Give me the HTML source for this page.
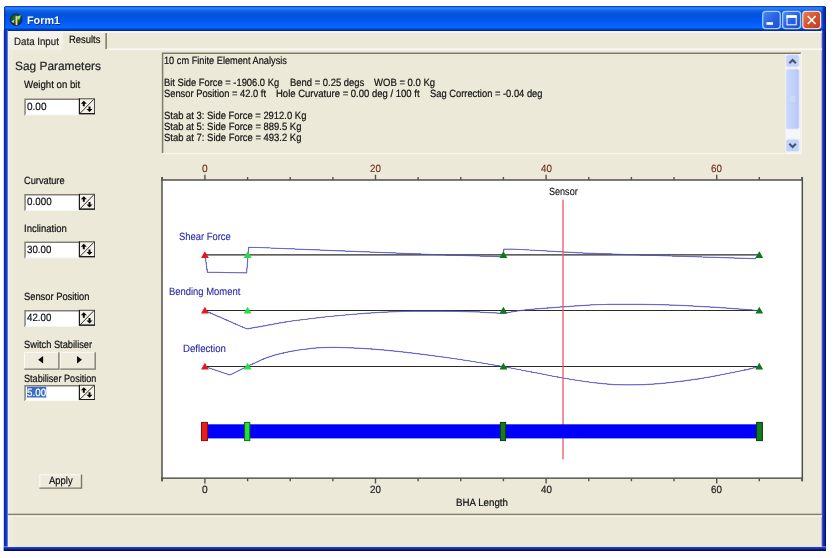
<!DOCTYPE html>
<html lang="en">
<head>
<meta charset="utf-8">
<title>Form1</title>
<style>
html,body{margin:0;padding:0;}
body{width:835px;height:558px;background:#fff;position:relative;overflow:hidden;font-family:"Liberation Sans",sans-serif;}
#win{position:absolute;left:4px;top:6px;width:822px;height:545px;background:#0b35c6;border-radius:3px 3px 0 0;overflow:hidden;
  box-shadow:inset 1px 0 0 #0a2db4,inset -1px 0 0 #0720a0,inset 0 -1px 0 #061a90;}
#title{position:absolute;left:0;top:0;width:822px;height:25px;
  background:linear-gradient(to bottom,#0a3cb8 0%,#0f48c8 3%,#2f84ff 7%,#2278f8 12%,#0a5ee6 21%,#0252da 36%,#0358f0 60%,#0562fe 76%,#0868ff 86%,#0446cc 92%,#002c9c 97%,#0030a8 100%);}
#client{position:absolute;left:4px;top:25px;width:814px;height:516px;background:#ece9d8;}
#tabs{position:absolute;left:8px;top:31px;width:814px;height:19px;}
.tab{position:absolute;top:2px;height:17px;}
#memo{position:absolute;left:162px;top:53px;width:639px;height:100px;background:#ece9d8;}
#status{position:absolute;left:8px;top:514px;width:814px;height:33px;background:#ece9d8;}
.btn{position:absolute;box-sizing:border-box;background:#eeebdc;}
svg{position:absolute;left:0;top:0;}
.t{position:absolute;white-space:pre;transform-origin:0 0;font-size:10.5px;line-height:14px;color:#111;
  font-family:"Liberation Sans",sans-serif;text-rendering:geometricPrecision;-webkit-text-stroke:0.2px currentColor;}
</style>
</head>
<body>
<div id="win">
  <div id="title"></div>
  <div id="client"></div>
</div>
<div id="tabs">
  <div class="tab" style="left:1px;width:54px;background:linear-gradient(to bottom,#f5f3ea,#f1efe4)"></div>
  <div class="tab" style="left:55px;width:43px;"></div>
</div>
<div id="memo"></div>
<div class="btn" style="left:24px;top:352px;width:36px;height:18px"></div>
<div class="btn" style="left:60px;top:352px;width:36px;height:18px"></div>
<div class="btn" style="left:39px;top:474px;width:43px;height:15px"></div>
<div id="status"></div>

<svg width="835" height="558" viewBox="0 0 835 558">
  <defs>
    <linearGradient id="bl" x1="0" y1="0" x2="1" y2="0">
      <stop offset="0" stop-color="#0a1e9c"/><stop offset="0.25" stop-color="#0f2cb6"/><stop offset="0.7" stop-color="#1a40c8"/><stop offset="0.9" stop-color="#4c76e2"/><stop offset="1" stop-color="#a8c4f8"/>
    </linearGradient>
    <linearGradient id="br" x1="0" y1="0" x2="1" y2="0">
      <stop offset="0" stop-color="#c8cede"/><stop offset="0.18" stop-color="#5a6ab8"/><stop offset="0.4" stop-color="#1c32b4"/><stop offset="0.72" stop-color="#10229e"/><stop offset="0.86" stop-color="#000c80"/><stop offset="1" stop-color="#000c80"/>
    </linearGradient>
    <linearGradient id="tr" x1="0" y1="0" x2="1" y2="0">
      <stop offset="0" stop-color="#0a2ca8" stop-opacity="0"/><stop offset="0.35" stop-color="#0a2ca8" stop-opacity="0.800"/><stop offset="1" stop-color="#041a8c" stop-opacity="1"/>
    </linearGradient>
    <linearGradient id="tl" x1="0" y1="0" x2="1" y2="0">
      <stop offset="0" stop-color="#0a2aa6" stop-opacity="0.900"/><stop offset="1" stop-color="#0a2aa6" stop-opacity="0"/>
    </linearGradient>
    <linearGradient id="bb" x1="0" y1="0" x2="0" y2="1">
      <stop offset="0" stop-color="#d4dcec"/><stop offset="0.2" stop-color="#2a44b8"/><stop offset="0.55" stop-color="#0a28a2"/><stop offset="0.82" stop-color="#000a72"/><stop offset="1" stop-color="#000a72"/>
    </linearGradient>
    <linearGradient id="gb" x1="0" y1="0" x2="1" y2="1">
      <stop offset="0" stop-color="#4f8cf6"/><stop offset="0.5" stop-color="#2b62e2"/><stop offset="1" stop-color="#1f4fc6"/>
    </linearGradient>
    <linearGradient id="gr" x1="0" y1="0" x2="1" y2="1">
      <stop offset="0" stop-color="#ea8058"/><stop offset="0.5" stop-color="#d4532c"/><stop offset="1" stop-color="#c03a16"/>
    </linearGradient>
    <radialGradient id="gi" cx="0.5" cy="0.4" r="0.6">
      <stop offset="0" stop-color="#2c7c3a"/><stop offset="0.6" stop-color="#175226"/><stop offset="1" stop-color="#0a2430"/>
    </radialGradient>
    <linearGradient id="gt" x1="0" y1="0" x2="1" y2="0">
      <stop offset="0" stop-color="#cad8fc"/><stop offset="0.6" stop-color="#c0d0f8"/><stop offset="1" stop-color="#b4c6f2"/>
    </linearGradient>
  </defs>

  <!-- window frame: left / right / bottom borders -->
  <rect x="3.800" y="30" width="4.200" height="521" fill="url(#bl)"/>
  <rect x="821.200" y="30" width="4.800" height="521" fill="url(#br)"/>
  <rect x="3.800" y="546.600" width="822.200" height="4.400" fill="url(#bb)"/>
  <rect x="7.900" y="31" width="1.400" height="515.600" fill="#eef5fe"/>
  <rect x="821.800" y="7" width="4.200" height="24" fill="url(#tr)"/>
  <rect x="4" y="7.500" width="2.200" height="23.500" fill="url(#tl)"/>
  <rect x="9" y="50" width="4.6" height="497" fill="#efecde"/>
  <rect x="8" y="31.4" width="814" height="1.3" fill="#fbfaf5"/>

  <!-- tab control lines -->
  <rect x="105.4" y="33" width="1.5" height="16" fill="#7b7868"/>
  <rect x="106.9" y="48.3" width="715" height="1.8" fill="#f8f7f0"/>

  <!-- memo sunken border -->
  <path d="M162.6 153.3 V53.3 H801" fill="none" stroke="#7f7c6a" stroke-width="1.5"/>
  <path d="M162 153.6 H801.2 V53" fill="none" stroke="#fbfaf5" stroke-width="1"/>

  <!-- memo scrollbar -->
  <rect x="785.5" y="54.2" width="14.8" height="98.5" fill="#f6f6fb"/>
  <rect x="786" y="54.8" width="13.2" height="12.2" rx="2" fill="#c3d3f8" stroke="#e4eafb" stroke-width="0.8"/>
  <rect x="786" y="69" width="13.2" height="60" rx="2" fill="url(#gt)" stroke="#e4eafb" stroke-width="0.8"/>
  <rect x="786" y="139.3" width="13.2" height="12.4" rx="2" fill="#c3d3f8" stroke="#e4eafb" stroke-width="0.8"/>
  <path d="M789.300 63.200 L792.600 59.900 L795.900 63.200" stroke="#44557c" stroke-width="2.100" fill="none"/>
  <path d="M789.300 143.700 L792.600 147 L795.900 143.700" stroke="#44557c" stroke-width="2.100" fill="none"/>
  <path d="M790 97 H795.5 M790 99 H795.5 M790 101 H795.5" stroke="#d9e3fb" stroke-width="0.9"/>

  <!-- status bar top line -->
  <rect x="8" y="513.7" width="814" height="1.5" fill="#807d6b"/>
  <rect x="8" y="515.4" width="814" height="1.4" fill="#f6f4ec"/>

  <!-- raised buttons: highlights + shadows -->
  <g fill="none">
    <path d="M24.5 369.5 V352.400 H59.3" stroke="#fbfaf4" stroke-width="1"/>
    <path d="M24.3 369.2 H59.3 M58.9 352.2 V369.8" stroke="#79766a" stroke-width="1.3"/>
    <path d="M60.5 369.5 V352.400 H95.6" stroke="#fbfaf4" stroke-width="1"/>
    <path d="M60.2 369.2 H95.7 M95.2 352.2 V369.8" stroke="#79766a" stroke-width="1.3"/>
    <path d="M39.8 488 V474.800 H81.6" stroke="#fbfaf4" stroke-width="1"/>
    <path d="M39.4 488.100 H82 M81.5 474.400 V488.700" stroke="#79766a" stroke-width="1.4"/>
  </g>
  <path d="M38.1 359.800 L43.1 356 V363.600 Z" fill="#0c0c0c"/>
  <path d="M82 359.800 L77 356 V363.600 Z" fill="#0c0c0c"/>

  <!-- spin edits -->
  <g id="edits">
    <rect x="24.3" y="98.5" width="54.6" height="16" fill="#fff"/><path d="M24.3 114.5 V98.5 H78.9" fill="none" stroke="#807e70" stroke-width="1.5" transform="translate(0.75 0.75)"/><path d="M25 114.8 H78.9" fill="none" stroke="#fbfaf5" stroke-width="1"/>
    <rect x="24.3" y="194" width="54.6" height="16" fill="#fff"/><path d="M24.3 210 V194 H78.9" fill="none" stroke="#807e70" stroke-width="1.5" transform="translate(0.75 0.75)"/><path d="M25 210.3 H78.9" fill="none" stroke="#fbfaf5" stroke-width="1"/>
    <rect x="24.3" y="241.5" width="54.6" height="16" fill="#fff"/><path d="M24.3 257.5 V241.5 H78.9" fill="none" stroke="#807e70" stroke-width="1.5" transform="translate(0.75 0.75)"/><path d="M25 257.8 H78.9" fill="none" stroke="#fbfaf5" stroke-width="1"/>
    <rect x="24.3" y="310" width="54.6" height="16" fill="#fff"/><path d="M24.3 326 V310 H78.9" fill="none" stroke="#807e70" stroke-width="1.5" transform="translate(0.75 0.75)"/><path d="M25 326.3 H78.9" fill="none" stroke="#fbfaf5" stroke-width="1"/>
    <rect x="24.3" y="385" width="54.6" height="15.3" fill="#fff"/><path d="M24.3 400.3 V385 H78.9" fill="none" stroke="#807e70" stroke-width="1.5" transform="translate(0.75 0.75)"/><path d="M25 400.6 H78.9" fill="none" stroke="#fbfaf5" stroke-width="1"/>
  </g>
  <!-- selection highlight -->
  <rect x="27" y="386.800" width="19.200" height="10.700" fill="#3a6cc6"/>
  <g id="spins">
    <rect x="79.5" y="98.8" width="15.0" height="14.9" fill="#f4f2e8" stroke="#4a4a44" stroke-width="1"/><path d="M79.4 114.2 V98.6 M79.0 113.7 H95.0" stroke="#1c1c1a" stroke-width="1.2" fill="none"/><path d="M80.0 113.4 L93.8 99.3" stroke="#1a1a1a" stroke-width="0.9" fill="none"/>
    <path d="M83.8 100.7 L86.8 103.7 H84.8 V106.3 H82.8 V103.7 H80.8 Z" fill="#080808"/>
    <path d="M89.5 112.0 L92.5 109.0 H90.5 V106.4 H88.5 V109.0 H86.5 Z" fill="#080808"/>
    <rect x="79.5" y="194.3" width="15.0" height="14.9" fill="#f4f2e8" stroke="#4a4a44" stroke-width="1"/><path d="M79.4 209.7 V194.1 M79.0 209.2 H95.0" stroke="#1c1c1a" stroke-width="1.2" fill="none"/><path d="M80.0 208.9 L93.8 194.8" stroke="#1a1a1a" stroke-width="0.9" fill="none"/>
    <path d="M83.8 196.2 L86.8 199.2 H84.8 V201.8 H82.8 V199.2 H80.8 Z" fill="#080808"/>
    <path d="M89.5 207.5 L92.5 204.5 H90.5 V201.9 H88.5 V204.5 H86.5 Z" fill="#080808"/>
    <rect x="79.5" y="241.8" width="15.0" height="14.9" fill="#f4f2e8" stroke="#4a4a44" stroke-width="1"/><path d="M79.4 257.2 V241.6 M79.0 256.7 H95.0" stroke="#1c1c1a" stroke-width="1.2" fill="none"/><path d="M80.0 256.4 L93.8 242.3" stroke="#1a1a1a" stroke-width="0.9" fill="none"/>
    <path d="M83.8 243.7 L86.8 246.7 H84.8 V249.3 H82.8 V246.7 H80.8 Z" fill="#080808"/>
    <path d="M89.5 255.0 L92.5 252.0 H90.5 V249.4 H88.5 V252.0 H86.5 Z" fill="#080808"/>
    <rect x="79.5" y="310.3" width="15.0" height="14.9" fill="#f4f2e8" stroke="#4a4a44" stroke-width="1"/><path d="M79.4 325.7 V310.1 M79.0 325.2 H95.0" stroke="#1c1c1a" stroke-width="1.2" fill="none"/><path d="M80.0 324.9 L93.8 310.8" stroke="#1a1a1a" stroke-width="0.9" fill="none"/>
    <path d="M83.8 312.2 L86.8 315.2 H84.8 V317.8 H82.8 V315.2 H80.8 Z" fill="#080808"/>
    <path d="M89.5 323.5 L92.5 320.5 H90.5 V317.9 H88.5 V320.5 H86.5 Z" fill="#080808"/>
    <rect x="79.5" y="385.3" width="15.0" height="14.2" fill="#f4f2e8" stroke="#4a4a44" stroke-width="1"/><path d="M79.4 400.0 V385.1 M79.0 399.5 H95.0" stroke="#1c1c1a" stroke-width="1.2" fill="none"/><path d="M80.0 399.2 L93.8 385.8" stroke="#1a1a1a" stroke-width="0.9" fill="none"/>
    <path d="M83.8 387.2 L86.8 390.2 H84.8 V392.8 H82.8 V390.2 H80.8 Z" fill="#080808"/>
    <path d="M89.5 397.8 L92.5 394.8 H90.5 V392.2 H88.5 V394.8 H86.5 Z" fill="#080808"/>
  </g>

  <!-- plot area -->
  <rect x="162" y="180" width="640" height="298" fill="#fff"/>
  <g stroke-width="1.500" fill="none">
    <path d="M162 177 V481.200" stroke="#514f47"/>
    <path d="M161.300 179.900 H803" stroke="#514f47"/>
    <path d="M161.300 478.200 H803" stroke="#3c3b37" stroke-width="1.300"/>
    <path d="M802.300 177 V481.200" stroke="#514f47"/>
  </g>
  <path d="M162.2 176.9 V180 M162.2 478 V481.2 M204.9 174.8 V180 M204.9 478 V483.6 M247.6 176.9 V180 M247.6 478 V481.2 M290.2 176.9 V180 M290.2 478 V481.2 M332.9 176.9 V180 M332.9 478 V481.2 M375.5 174.8 V180 M375.5 478 V483.6 M418.1 176.9 V180 M418.1 478 V481.2 M460.8 176.9 V180 M460.8 478 V481.2 M503.4 176.9 V180 M503.4 478 V481.2 M546.1 174.8 V180 M546.1 478 V483.6 M588.8 176.9 V180 M588.8 478 V481.2 M631.4 176.9 V180 M631.4 478 V481.2 M674.0 176.9 V180 M674.0 478 V481.2 M716.7 174.8 V180 M716.7 478 V483.6 M759.3 176.9 V180 M759.3 478 V481.2 M802.0 176.9 V180 M802.0 478 V481.2" stroke="#56534a" stroke-width="1.400" fill="none"/>

  <!-- baselines -->
  <g stroke="#2c2c2c" stroke-width="1" fill="none">
    <path d="M205 254.900 H759" stroke="#2a2a2a" stroke-width="1.400"/>
    <path d="M205 310.5 H759"/>
    <path d="M205 366.5 H759"/>
  </g>
  <!-- curves -->
  <g stroke="#4c4cc0" stroke-width="1" fill="none" stroke-linejoin="round" stroke-opacity="0.600" shape-rendering="crispEdges">
    <path d="M205 255 L207.4 272.2 L246.6 273 L248.7 247.4 L258 247.5 L340 250.8 L446 255 L500 256.6 L503 256.6 L504 249 L512 249 L580 252.9 L640 255 L755 258.7 L759 255"/>
    <path d="M205 310.6 L247 329 C253.1 327.9 271.9 324.2 283.6 322.3 C295.3 320.4 305.8 319.2 317.0 317.9 C328.2 316.6 339.4 315.4 350.6 314.5 C361.8 313.6 373.4 312.8 384.0 312.2 C394.6 311.6 404.5 311.4 414.0 311.2 C423.5 311.0 430.9 311.0 441.0 311.1 C451.1 311.2 465.2 311.5 474.7 311.8 C484.2 312.1 493.3 312.8 498.0 313.1 C502.7 313.4 502.2 313.4 503.0 313.5 C505.8 313.0 513.8 311.4 520.0 310.6 C526.2 309.8 532.8 309.2 540.0 308.6 C547.2 308.0 555.5 307.4 563.0 306.8 C570.5 306.2 578.0 305.7 585.0 305.3 C592.0 304.9 595.8 304.6 605.0 304.5 C614.2 304.4 627.5 304.2 640.0 304.4 C652.5 304.5 666.7 304.9 680.0 305.4 C693.3 305.9 706.8 306.8 720.0 307.6 C733.2 308.5 752.5 310.0 759.0 310.5"/>
    <path d="M205 366.5 L229.7 375 L247.1 366.5 C248.9 365.7 254.6 363.1 257.9 361.6 C261.2 360.1 263.9 358.7 266.9 357.6 C269.9 356.5 272.8 355.7 275.8 354.9 C278.8 354.1 281.8 353.4 284.8 352.7 C287.8 352.0 290.8 351.4 293.8 350.9 C296.8 350.4 299.8 349.9 302.8 349.5 C305.8 349.1 308.8 348.7 311.8 348.4 C314.8 348.1 317.1 347.9 320.7 347.7 C324.3 347.5 329.2 347.4 333.3 347.4 C337.4 347.4 338.9 347.4 345.0 347.6 C351.1 347.9 360.8 348.2 370.0 348.9 C379.2 349.6 386.7 350.1 400.0 351.6 C413.3 353.1 432.8 355.5 450.0 358.0 C467.2 360.5 484.2 363.3 503.0 366.6 C521.8 369.9 546.8 375.2 563.0 378.0 C579.2 380.8 589.2 382.2 600.0 383.4 C610.8 384.6 618.0 385.0 628.0 385.0 C638.0 385.0 648.0 384.7 660.0 383.6 C672.0 382.6 686.7 380.8 700.0 378.7 C713.3 376.6 730.2 373.0 740.0 371.0 C749.8 369.0 755.8 367.3 759.0 366.6"/>
  </g>
  <g stroke="#4c4cc0" stroke-width="1.200" fill="none" stroke-linejoin="round" stroke-opacity="0.600">
    <path d="M205 255 L207.4 272.2 L246.6 273 L248.7 247.4 L258 247.5 L340 250.8 L446 255 L500 256.6 L503 256.6 L504 249 L512 249 L580 252.9 L640 255 L755 258.7 L759 255"/>
    <path d="M205 310.6 L247 329 C253.1 327.9 271.9 324.2 283.6 322.3 C295.3 320.4 305.8 319.2 317.0 317.9 C328.2 316.6 339.4 315.4 350.6 314.5 C361.8 313.6 373.4 312.8 384.0 312.2 C394.6 311.6 404.5 311.4 414.0 311.2 C423.5 311.0 430.9 311.0 441.0 311.1 C451.1 311.2 465.2 311.5 474.7 311.8 C484.2 312.1 493.3 312.8 498.0 313.1 C502.7 313.4 502.2 313.4 503.0 313.5 C505.8 313.0 513.8 311.4 520.0 310.6 C526.2 309.8 532.8 309.2 540.0 308.6 C547.2 308.0 555.5 307.4 563.0 306.8 C570.5 306.2 578.0 305.7 585.0 305.3 C592.0 304.9 595.8 304.6 605.0 304.5 C614.2 304.4 627.5 304.2 640.0 304.4 C652.5 304.5 666.7 304.9 680.0 305.4 C693.3 305.9 706.8 306.8 720.0 307.6 C733.2 308.5 752.5 310.0 759.0 310.5"/>
    <path d="M205 366.5 L229.7 375 L247.1 366.5 C248.9 365.7 254.6 363.1 257.9 361.6 C261.2 360.1 263.9 358.7 266.9 357.6 C269.9 356.5 272.8 355.7 275.8 354.9 C278.8 354.1 281.8 353.4 284.8 352.7 C287.8 352.0 290.8 351.4 293.8 350.9 C296.8 350.4 299.8 349.9 302.8 349.5 C305.8 349.1 308.8 348.7 311.8 348.4 C314.8 348.1 317.1 347.9 320.7 347.7 C324.3 347.5 329.2 347.4 333.3 347.4 C337.4 347.4 338.9 347.4 345.0 347.6 C351.1 347.9 360.8 348.2 370.0 348.9 C379.2 349.6 386.7 350.1 400.0 351.6 C413.3 353.1 432.8 355.5 450.0 358.0 C467.2 360.5 484.2 363.3 503.0 366.6 C521.8 369.9 546.8 375.2 563.0 378.0 C579.2 380.8 589.2 382.2 600.0 383.4 C610.8 384.6 618.0 385.0 628.0 385.0 C638.0 385.0 648.0 384.7 660.0 383.6 C672.0 382.6 686.7 380.8 700.0 378.7 C713.3 376.6 730.2 373.0 740.0 371.0 C749.8 369.0 755.8 367.3 759.0 366.6"/>
  </g>
  <!-- sensor line -->
  <path d="M563 199.400 V459.600" stroke="#e65a62" stroke-width="1.300" fill="none"/>
  <!-- BHA bar -->
  <rect x="205" y="424.300" width="554" height="14.100" fill="#0000f8"/>
  <rect x="201.500" y="422.400" width="6" height="18.200" fill="#f01a1a" stroke="#7e1212" stroke-width="1"/>
  <rect x="244.600" y="422.400" width="5.200" height="18.200" fill="#26e03e" stroke="#0c6c16" stroke-width="1"/>
  <rect x="500.400" y="422.400" width="5.200" height="18.200" fill="#107c1c" stroke="#0a3c0e" stroke-width="1"/>
  <rect x="756.600" y="422.400" width="5.800" height="18.200" fill="#107c1c" stroke="#0a3c0e" stroke-width="1"/>
  <!-- markers -->
  <g id="tris">
    <path d="M204.9 251.2 L208.8 257.9 H201.0 Z" fill="#e8161e"/>
    <path d="M247.6 251.2 L251.5 257.9 H243.7 Z" fill="#24e044"/>
    <path d="M503.4 251.2 L507.3 257.9 H499.5 Z" fill="#0b7a16"/>
    <path d="M759.3 251.2 L763.2 257.9 H755.4 Z" fill="#0b7a16"/>
    <path d="M204.9 306.8 L208.8 313.5 H201.0 Z" fill="#e8161e"/>
    <path d="M247.6 306.8 L251.5 313.5 H243.7 Z" fill="#24e044"/>
    <path d="M503.4 306.8 L507.3 313.5 H499.5 Z" fill="#0b7a16"/>
    <path d="M759.3 306.8 L763.2 313.5 H755.4 Z" fill="#0b7a16"/>
    <path d="M204.9 362.8 L208.8 369.5 H201.0 Z" fill="#e8161e"/>
    <path d="M247.6 362.8 L251.5 369.5 H243.7 Z" fill="#24e044"/>
    <path d="M503.4 362.8 L507.3 369.5 H499.5 Z" fill="#0b7a16"/>
    <path d="M759.3 362.8 L763.2 369.5 H755.4 Z" fill="#0b7a16"/>
  </g>

  <!-- caption buttons -->
  <rect x="762.700" y="11.400" width="17.600" height="17.200" rx="3" fill="url(#gb)" stroke="#a4ccff" stroke-width="1.300"/>
  <rect x="782.600" y="11.400" width="18" height="17.200" rx="3" fill="url(#gb)" stroke="#a4ccff" stroke-width="1.300"/>
  <rect x="802.800" y="11.400" width="17.800" height="17.200" rx="3" fill="url(#gr)" stroke="#f6d8d0" stroke-width="1.300"/>
  <rect x="766.400" y="22.200" width="6.600" height="2.600" fill="#fff"/>
  <rect x="787" y="15.800" width="9.200" height="9" fill="none" stroke="#fff" stroke-width="1"/>
  <rect x="786.500" y="15.300" width="10.200" height="2.600" fill="#fff"/>
  <path d="M807.8 16 L815.600 24 M815.600 16 L807.800 24" stroke="#fff" stroke-width="1.700" fill="none"/>

  <!-- application icon -->
  <g id="icon">
    <circle cx="16.100" cy="19.600" r="5.900" fill="url(#gi)" stroke="#0a1640" stroke-width="0.900" stroke-opacity="0.750"/>
    <path d="M11.300 21.200 L14.300 19.600 L14.600 22.600 L13 23 Z" fill="#9ade6c"/>
    <path d="M14.400 20.400 L15.600 20.400 L15.600 24 L14.200 23.300 Z" fill="#5a3212"/>
    <rect x="15.600" y="16.200" width="1.800" height="8.900" fill="#e6dc9e"/>
    <path d="M17.300 16.300 L21 15.300 L19.400 19.400 L17.400 19.300 Z" fill="#a6e65c"/>
  </g>
</svg>
<span class="t" style="left:27.35px;top:14px;font-size:11px;font-weight:bold;color:#fff;transform:scaleX(0.9844);text-shadow:0.6px 0.8px 0 #0a2a8a;-webkit-text-stroke:0;">Form1</span>
<span class="t" style="left:14.45px;top:35px;color:#222;transform:scaleX(0.9267);">Data Input</span>
<span class="t" style="left:69.25px;top:33px;transform:scaleX(0.8967);">Results</span>
<span class="t" style="left:15.05px;top:59px;font-size:12px;color:#222;transform:scaleX(0.9906);">Sag Parameters</span>
<span class="t" style="left:23.95px;top:78px;transform:scaleX(0.9199);">Weight on bit</span>
<span class="t" style="left:26.85px;top:100px;transform:scaleX(0.9541);">0.00</span>
<span class="t" style="left:24.45px;top:174px;transform:scaleX(0.8805);">Curvature</span>
<span class="t" style="left:26.75px;top:195px;transform:scaleX(0.9360);">0.000</span>
<span class="t" style="left:24.45px;top:222px;transform:scaleX(0.9073);">Inclination</span>
<span class="t" style="left:27.25px;top:243px;transform:scaleX(0.9246);">30.00</span>
<span class="t" style="left:24.15px;top:290px;transform:scaleX(0.8892);">Sensor Position</span>
<span class="t" style="left:27.35px;top:311px;transform:scaleX(0.9246);">42.00</span>
<span class="t" style="left:24.45px;top:338px;transform:scaleX(0.8841);">Switch Stabiliser</span>
<span class="t" style="left:24.45px;top:372px;transform:scaleX(0.8674);">Stabiliser Position</span>
<span class="t" style="left:27.15px;top:386px;color:#fff;transform:scaleX(0.9346);">5.00</span>
<span class="t" style="left:48.65px;top:474px;transform:scaleX(0.8985);">Apply</span>
<span class="t" style="left:164.05px;top:54px;transform:scaleX(0.8775);">10 cm Finite Element Analysis</span>
<span class="t" style="left:164.05px;top:76px;transform:scaleX(0.8903);">Bit Side Force = -1906.0 Kg</span>
<span class="t" style="left:289.55px;top:76px;transform:scaleX(0.8992);">Bend = 0.25 degs</span>
<span class="t" style="left:373.75px;top:76px;transform:scaleX(0.9064);">WOB = 0.0 Kg</span>
<span class="t" style="left:164.05px;top:87px;transform:scaleX(0.8893);">Sensor Position = 42.0 ft</span>
<span class="t" style="left:275.85px;top:87px;transform:scaleX(0.9061);">Hole Curvature = 0.00 deg / 100 ft</span>
<span class="t" style="left:429.55px;top:87px;transform:scaleX(0.8902);">Sag Correction = -0.04 deg</span>
<span class="t" style="left:164.05px;top:109px;transform:scaleX(0.8985);">Stab at 3: Side Force = 2912.0 Kg</span>
<span class="t" style="left:164.05px;top:120px;transform:scaleX(0.9002);">Stab at 5: Side Force = 889.5 Kg</span>
<span class="t" style="left:164.05px;top:131px;transform:scaleX(0.9002);">Stab at 7: Side Force = 493.2 Kg</span>
<span class="t" style="left:202.05px;top:162px;color:#702a1e;transform:scaleX(0.9754);-webkit-text-stroke-width:0.12px;">0</span>
<span class="t" style="left:202.05px;top:483px;color:#222;transform:scaleX(0.9754);">0</span>
<span class="t" style="left:370.05px;top:162px;color:#702a1e;transform:scaleX(0.9326);-webkit-text-stroke-width:0.12px;">20</span>
<span class="t" style="left:370.05px;top:483px;color:#222;transform:scaleX(0.9326);">20</span>
<span class="t" style="left:540.65px;top:162px;color:#702a1e;transform:scaleX(0.9326);-webkit-text-stroke-width:0.12px;">40</span>
<span class="t" style="left:540.65px;top:483px;color:#222;transform:scaleX(0.9326);">40</span>
<span class="t" style="left:711.25px;top:162px;color:#702a1e;transform:scaleX(0.9326);-webkit-text-stroke-width:0.12px;">60</span>
<span class="t" style="left:711.25px;top:483px;color:#222;transform:scaleX(0.9326);">60</span>
<span class="t" style="left:548.55px;top:185px;transform:scaleX(0.8623);-webkit-text-stroke-width:0.12px;">Sensor</span>
<span class="t" style="left:179.25px;top:230px;color:#2a2aa6;transform:scaleX(0.8948);-webkit-text-stroke-width:0.12px;">Shear Force</span>
<span class="t" style="left:169.15px;top:285px;color:#2a2aa6;transform:scaleX(0.8981);-webkit-text-stroke-width:0.12px;">Bending Moment</span>
<span class="t" style="left:183.45px;top:342px;color:#2a2aa6;transform:scaleX(0.9186);-webkit-text-stroke-width:0.12px;">Deflection</span>
<span class="t" style="left:455.75px;top:496px;transform:scaleX(0.9278);">BHA Length</span>
</body>
</html>
